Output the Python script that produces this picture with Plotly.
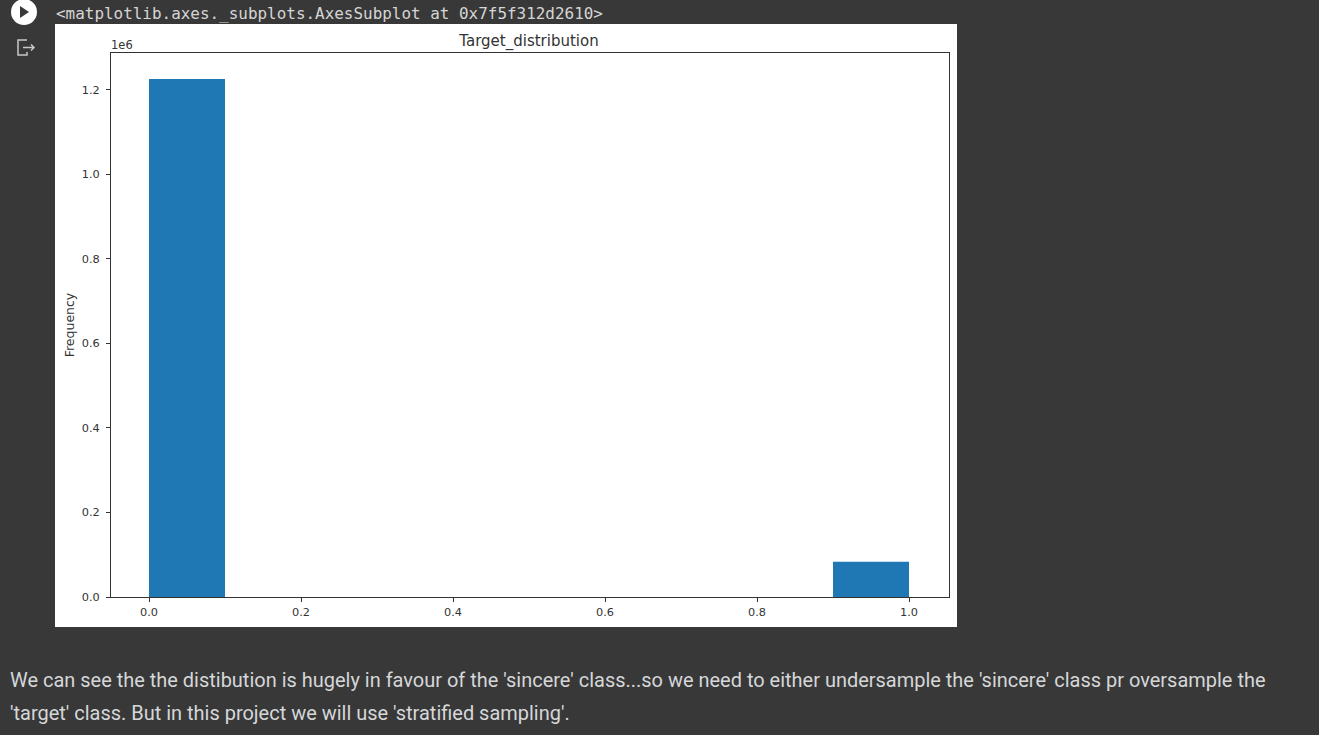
#!/usr/bin/env python
# coding: utf-8
import plotly.graph_objects as go

# histogram of the target column, 10 bins
bin_left = [0.0, 0.1, 0.2, 0.3, 0.4, 0.5, 0.6, 0.7, 0.8, 0.9]
bin_counts = [1225312, 0, 0, 0, 0, 0, 0, 0, 0, 83500]
bin_width = 0.1

x_ticks = [0.0, 0.2, 0.4, 0.6, 0.8, 1.0]
y_ticks = [0, 200000, 400000, 600000, 800000, 1000000, 1200000]
y_labels = ['0.0', '0.2', '0.4', '0.6', '0.8', '1.0', '1.2']

output_repr = '&lt;matplotlib.axes._subplots.AxesSubplot at 0x7f5f312d2610&gt;'
note_line1 = "We can see the the distibution is hugely in favour of the 'sincere' class...so we need to either undersample the 'sincere' class pr oversample the"
note_line2 = "'target' class. But in this project we will use 'stratified sampling'."

W, H = 1319, 735
L, R, T, B = 111, 949, 53, 597
DARK = '#383838'
INK = '#333333'
MPL = 'DejaVu Sans'

def px_x(x):
    return (x - L) / (R - L)

def px_y(y):
    return (B - y) / (B - T)

def label(text, x, y, size, color, family, anchor='left', angle=0):
    return dict(text=text, x=px_x(x), y=px_y(y), xref='paper', yref='paper', showarrow=False,
                xanchor=anchor, yanchor='middle', textangle=angle, borderpad=0,
                font=dict(size=size, color=color, family=family))

def box(x0, y0, x1, y1, **kw):
    return dict(type='rect', xref='paper', yref='paper', x0=px_x(x0), x1=px_x(x1),
                y0=px_y(y1), y1=px_y(y0), **kw)

fig = go.Figure(go.Bar(x=bin_left, y=bin_counts, width=bin_width, offset=0,
                       marker=dict(color='#1f77b4', line=dict(width=0))))

shapes = [
    # white matplotlib figure
    box(55, 24, 957, 627, fillcolor='white', line_width=0, layer='below'),
    # run button
    dict(type='circle', xref='paper', yref='paper', x0=px_x(11), x1=px_x(37), y0=px_y(25), y1=px_y(-1),
         fillcolor='white', line_width=0),
    dict(type='path', xref='paper', yref='paper', fillcolor=DARK, line_width=0,
         path='M %f %f L %f %f L %f %f Z' % (px_x(20), px_y(6), px_x(29), px_y(12), px_x(20), px_y(18))),
    # output icon
    dict(type='path', xref='paper', yref='paper', line=dict(color='#c8c8c8', width=1.5),
         path='M %f %f L %f %f L %f %f L %f %f L %f %f' % (px_x(27), px_y(40), px_x(18), px_y(40),
                                                         px_x(18), px_y(55), px_x(27), px_y(55), px_x(27), px_y(52))),
    dict(type='path', xref='paper', yref='paper', line=dict(color='#c8c8c8', width=1.5),
         path='M %f %f L %f %f M %f %f L %f %f L %f %f' % (px_x(23), px_y(47.5), px_x(34), px_y(47.5),
                                                         px_x(31), px_y(44.5), px_x(34), px_y(47.5), px_x(31), px_y(50.5))),
]

annotations = [
    label(output_repr, 55, 13, 15.95, '#d5d5d5', 'DejaVu Sans Mono'),
    label('1e6', 110, 45, 11.5, INK, MPL),
    label(note_line1, 8.5, 680, 19.98, '#d5d7d9', 'Roboto'),
    label(note_line2, 8.5, 713, 19.98, '#d5d7d9', 'Roboto'),
]

fig.update_layout(
    width=W, height=H, autosize=False, showlegend=False,
    margin=dict(l=L, r=W - R, t=T, b=H - B, pad=0),
    paper_bgcolor=DARK, plot_bgcolor='white',
    title=dict(text='Target_distribution', x=529 / W, xanchor='center', y=1 - 40.5 / H, yanchor='middle',
               font=dict(size=15, color=INK, family=MPL)),
    shapes=shapes, annotations=annotations,
)
fig.update_xaxes(range=[-0.05, 1.0526], tickmode='array', tickvals=x_ticks, ticktext=['%.1f' % t for t in x_ticks],
                 ticks='outside', ticklen=4, tickcolor=INK, showgrid=False, zeroline=False,
                 showline=True, mirror=True, linecolor=INK, linewidth=1,
                 tickfont=dict(size=11.3, color=INK, family=MPL))
fig.update_yaxes(range=[0, 1286578], tickmode='array', tickvals=y_ticks, ticktext=y_labels,
                 ticks='outside', ticklen=4, tickcolor=INK, showgrid=False, zeroline=False,
                 showline=True, mirror=True, linecolor=INK, linewidth=1, ticklabelstandoff=4,
                 tickfont=dict(size=11.3, color=INK, family=MPL),
                 title=dict(text='Frequency', standoff=4, font=dict(size=12.5, color=INK, family=MPL)))

fig.write_html("out.html", config=dict(displayModeBar=False),
               post_script="document.body.style.margin='0';document.body.style.overflow='hidden';")
